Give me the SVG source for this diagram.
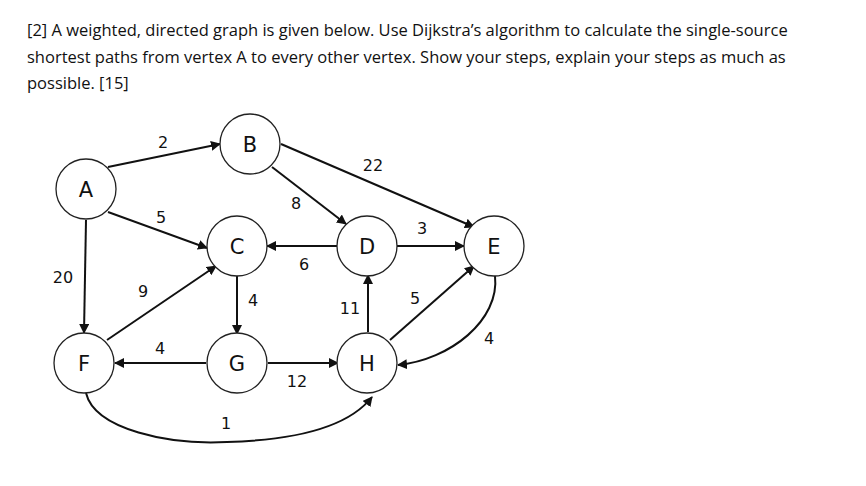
<svg xmlns="http://www.w3.org/2000/svg" width="866" height="486" viewBox="0 0 866 486">
<style>
.t{font-family:"Open Sans","Noto Sans",sans-serif;font-size:16.5px;fill:#111}
.n circle{fill:#fff;stroke:#222;stroke-width:1.3}
.n text{font-family:"DejaVu Sans",sans-serif;font-size:21px;text-anchor:middle;fill:#111}
.e path{fill:none;stroke:#111;stroke-width:2;marker-end:url(#ar)}
.w{font-family:"DejaVu Sans",sans-serif;font-size:16px;text-anchor:middle;fill:#111}
</style>
<defs><marker id="ar" viewBox="0 0 10 10" refX="9" refY="5" markerWidth="5" markerHeight="5" orient="auto" markerUnits="strokeWidth"><path d="M0,0L10,5L0,10z" fill="#111"/></marker></defs>
<rect width="866" height="486" fill="#fff"/>
<text class="t" x="27" y="36">[2] A weighted, directed graph is given below. Use Dijkstra’s algorithm to calculate the single-source</text>
<text class="t" x="27" y="63">shortest paths from vertex A to every other vertex. Show your steps, explain your steps as much as</text>
<text class="t" x="27" y="89">possible. [15]</text>
<g class="e" id="edges">
<path d="M108,167L220,144"/>
<path d="M108,212L207,248"/>
<path d="M86,220L84,333"/>
<path d="M272,167L346,224"/>
<path d="M281,144L474,227"/>
<path d="M337,246L267,246"/>
<path d="M397,246L464,246"/>
<path d="M107,340L216,266"/>
<path d="M237,275L237,334"/>
<path d="M206,363L115,363"/>
<path d="M268,363L338,363"/>
<path d="M368,332L368,275"/>
<path d="M390,340L474,266"/>
<path d="M495,276C500,320 450,360 398,365"/>
<path d="M86,393C95,430 170,445 227,442C300,440 350,425 372,397"/>
</g>
<g class="w">
<text x="163" y="148">2</text><text x="373" y="171">22</text><text x="161" y="223">5</text>
<text x="296" y="209">8</text><text x="422" y="234">3</text><text x="304" y="270">6</text>
<text x="63" y="283">20</text><text x="143" y="297">9</text><text x="253" y="306">4</text>
<text x="350" y="314">11</text><text x="415" y="304">5</text><text x="489" y="344">4</text>
<text x="160" y="354">4</text><text x="297" y="387">12</text><text x="226" y="429">1</text>
</g>
<g class="n" id="A"><circle cx="86" cy="189" r="30"/><text x="86" y="197">A</text></g>
<g class="n" id="B"><circle cx="250" cy="144" r="30"/><text x="250" y="152">B</text></g>
<g class="n" id="C"><circle cx="237" cy="246" r="30"/><text x="237" y="254">C</text></g>
<g class="n" id="D"><circle cx="367" cy="246" r="30"/><text x="367" y="254">D</text></g>
<g class="n" id="E"><circle cx="494" cy="246" r="30"/><text x="494" y="254">E</text></g>
<g class="n" id="F"><circle cx="84" cy="363" r="30"/><text x="84" y="371">F</text></g>
<g class="n" id="G"><circle cx="237" cy="363" r="30"/><text x="237" y="371">G</text></g>
<g class="n" id="H"><circle cx="367" cy="363" r="30"/><text x="367" y="371">H</text></g>
</svg>
